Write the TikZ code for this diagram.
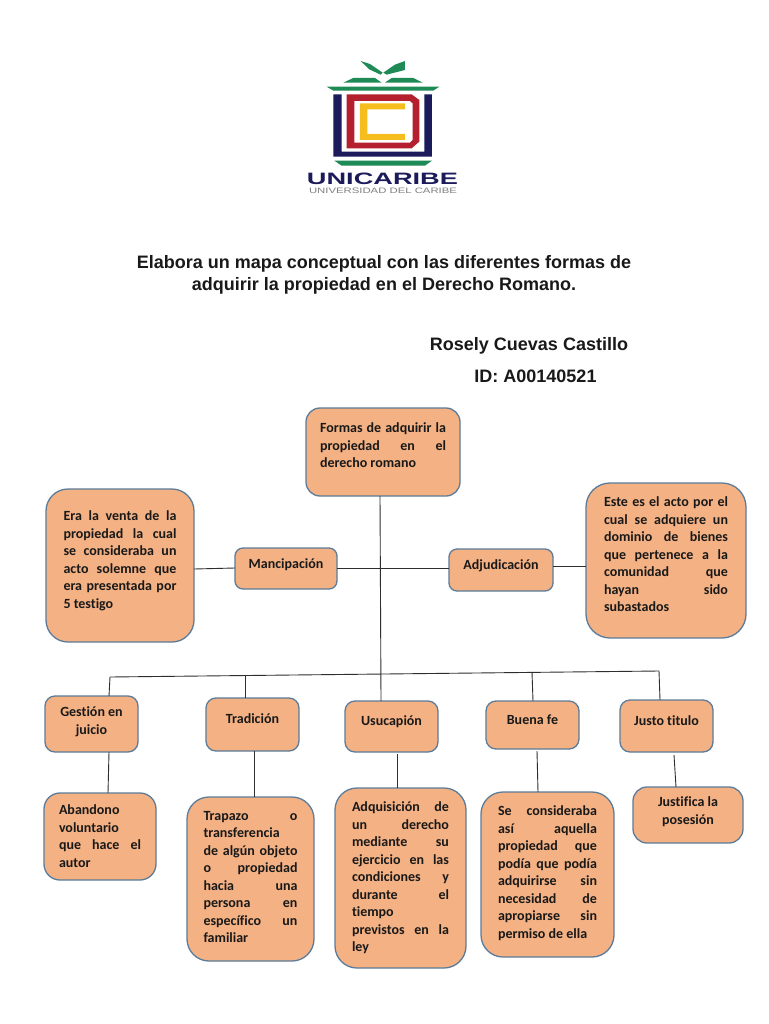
\documentclass[tikz,border=0pt]{standalone}
\usepackage{fontspec}
\setmainfont{Carlito}[Ligatures=NoCommon]
\newfontfamily\titlefont{Liberation Sans}
\definecolor{boxfill}{HTML}{F4B183}
\definecolor{boxline}{HTML}{5B7C9A}
\definecolor{linkcol}{HTML}{2E2E2E}
\definecolor{lgreen}{HTML}{1E8A56}
\definecolor{lnavy}{HTML}{1B1A5A}
\definecolor{lred}{HTML}{B5202E}
\definecolor{lyellow}{HTML}{F5BE1E}
\tikzset{
  conceptbox/.style={draw=boxline,fill=boxfill,line width=1.3pt,inner sep=0pt,outer sep=0pt,text=black!90},
  linkline/.style={draw=linkcol,line width=0.9pt},
  headtext/.style={font=\titlefont\bfseries\fontsize{18}{22}\selectfont,text=black!90,inner sep=0pt,align=center}
}
% name, x0, y0, x1, y1, radius, x inset, first line centre y, text
\newcommand\bx[9]{%
  \node[conceptbox,rounded corners=#6pt,minimum width={(#4-#2)*1pt},minimum height={(#5-#3)*1pt}]
    (#1) at ({(#2+#4)/2},{(#3+#5)/2})
    {\parbox[c][\dimexpr #5pt-#3pt\relax][t]{\dimexpr #4pt-#2pt-#7pt-#7pt\relax}{%
      \bfseries\fontsize{14}{17.5}\selectfont\tolerance=10000\hbadness=10000\hfuzz=3pt\parindent=0pt
      \vspace*{\dimexpr #8pt-5pt-#3pt\relax}\rule{0pt}{9pt}#9}};}
\begin{document}
\begin{tikzpicture}[x=1pt,y=-1pt]
\useasboundingbox (0,0) rectangle (768,1024);
\fill[white] (0,0) rectangle (768,1024);
% logo
\begin{scope}[x=0.3333pt,y=-0.3333pt,shift={(870,150)}]
  \fill[lgreen] (212,33) -- (240,42) -- (278,68) -- (272,74) -- (238,58) -- cycle;
  \fill[lgreen] (345,33) -- (315,44) -- (280,68) -- (290,74) -- (345,60) -- cycle;
  \fill[lgreen] (160,98) -- (190,84) -- (255,84) -- (275,98) -- cycle;
  \fill[lgreen] (285,98) -- (305,84) -- (370,84) -- (398,98) -- cycle;
  \fill[lgreen] (110,110) -- (448,110) -- (430,122) -- (130,122) -- cycle;
  \fill[lnavy] (130,133) -- (155,133) -- (155,305) -- (403,305) -- (403,133) -- (426,133) -- (426,320) -- (130,320) -- cycle;
  \fill[lred,even odd rule] (170,133) -- (365,133) -- (388,150) -- (388,275) -- (365,295) -- (170,295) -- cycle
     (193,153) -- (193,278) -- (360,278) -- (368,270) -- (368,160) -- (360,153) -- cycle;
  \fill[lyellow] (210,160) -- (345,160) -- (345,178) -- (232,178) -- (232,252) -- (345,252) -- (345,270) -- (210,270) -- cycle;
  \fill[lgreen] (133,332) -- (426,332) -- (405,347) -- (155,347) -- cycle;
\end{scope}
\node[inner sep=0pt,text=lnavy] (logoname) at (382.5,178.5) {\resizebox{151pt}{11.5pt}{\titlefont\bfseries UNICARIBE}};
\node[inner sep=0pt,text=black!50] (logosub) at (383,190.5) {\resizebox{148pt}{5.5pt}{\titlefont UNIVERSIDAD DEL CARIBE}};
% headings
\node[headtext] (title) at (384,274.5) {Elabora un mapa conceptual con las diferentes formas de\\adquirir la propiedad en el Derecho Romano.};
\node[headtext] (author) at (529,346) {Rosely Cuevas Castillo};
\node[headtext] (idnum) at (535.5,376.5) {ID: A00140521};
% boxes
\bx{top}{306}{408}{460}{496}{14}{14}{428}{Formas de adquirir la\linebreak propiedad en el\linebreak derecho romano}
\bx{era}{46}{489}{194}{642}{22}{17.5}{516}{Era la venta de la\linebreak propiedad la cual\linebreak se consideraba un\linebreak acto solemne que\linebreak era presentada por\linebreak 5 testigo}
\bx{man}{235}{548}{337}{589}{8}{4}{564}{\centering Mancipación}
\bx{adj}{449}{549}{553}{591}{8}{4}{565}{\centering Adjudicación}
\bx{este}{586}{483}{746}{638}{24}{18}{502}{Este es el acto por el\linebreak cual se adquiere un\linebreak dominio de bienes\linebreak que pertenece a la\linebreak comunidad que\linebreak hayan sido\linebreak subastados}
\bx{ges}{45}{696}{138}{752}{10}{4}{712}{\centering Gestión en\\juicio}
\bx{tra}{206}{698}{299}{751}{10}{4}{719}{\centering Tradición}
\bx{usu}{345}{701}{438}{752}{10}{4}{721}{\centering Usucapión}
\bx{bue}{486}{701}{579}{749}{10}{4}{720}{\centering Buena fe}
\bx{jus}{620}{700}{713}{752}{10}{4}{721}{\centering Justo titulo}
\bx{aba}{44}{793}{156}{880}{16}{15}{810}{Abandono\newline voluntario\newline que hace el\linebreak autor}
\bx{trp}{187}{797}{314}{961}{22}{16.5}{816}{Trapazo o\linebreak transferencia\newline de algún objeto\linebreak o propiedad\linebreak hacia una\linebreak persona en\linebreak específico un\linebreak familiar}
\bx{adq}{335}{788}{466}{968}{22}{17}{807}{Adquisición de\linebreak un derecho\linebreak mediante su\linebreak ejercicio en las\linebreak condiciones y\linebreak durante el\linebreak tiempo\newline previstos en la\linebreak ley}
\bx{sec}{481}{792}{614}{957}{22}{17}{811}{Se consideraba\linebreak así aquella\linebreak propiedad que\linebreak podía que podía\linebreak adquirirse sin\linebreak necesidad de\linebreak apropiarse sin\linebreak permiso de ella}
\bx{jtf}{633}{787}{743}{843}{14}{8}{802}{\centering Justifica la\\posesión}
% junctions
\coordinate (hl) at (110,677);
\coordinate (hr) at (659,671);
\coordinate (jtra) at (245,675.5);
\coordinate (jbue) at (532,672);
% connectors
\draw[linkline] ([xshift=-3pt]top.south) -- ([xshift=-10.5pt]usu.north);
\draw[linkline] ([yshift=0.5pt]man.east) -- ([yshift=2pt]adj.west);
\draw[linkline] ([yshift=-3.5pt]era.east) -- ([yshift=0.5pt]man.west);
\draw[linkline] ([yshift=4pt]adj.east) -- ([yshift=-5.5pt]este.west);
\draw[linkline] (hl) -- (hr);
\draw[linkline] (hl) -- ([xshift=17.5pt]ges.north);
\draw[linkline] (jtra) -- ([xshift=-7.5pt]tra.north);
\draw[linkline] (jbue) -- ([xshift=0.5pt]bue.north);
\draw[linkline] (hr) -- ([xshift=-6.5pt]jus.north);
\draw[linkline] ([xshift=17.5pt]ges.south) -- ([xshift=8pt]aba.north);
\draw[linkline] ([xshift=1.5pt]tra.south) -- ([xshift=3.5pt]trp.north);
\draw[linkline] ([xshift=5.5pt,yshift=-2pt]usu.south) -- ([xshift=-3.5pt]adq.north);
\draw[linkline] ([xshift=4.5pt,yshift=-2pt]bue.south) -- ([xshift=-9.5pt]sec.north);
\draw[linkline] ([xshift=7.5pt,yshift=-3pt]jus.south) -- ([xshift=-12pt]jtf.north);
\end{tikzpicture}
\end{document}
